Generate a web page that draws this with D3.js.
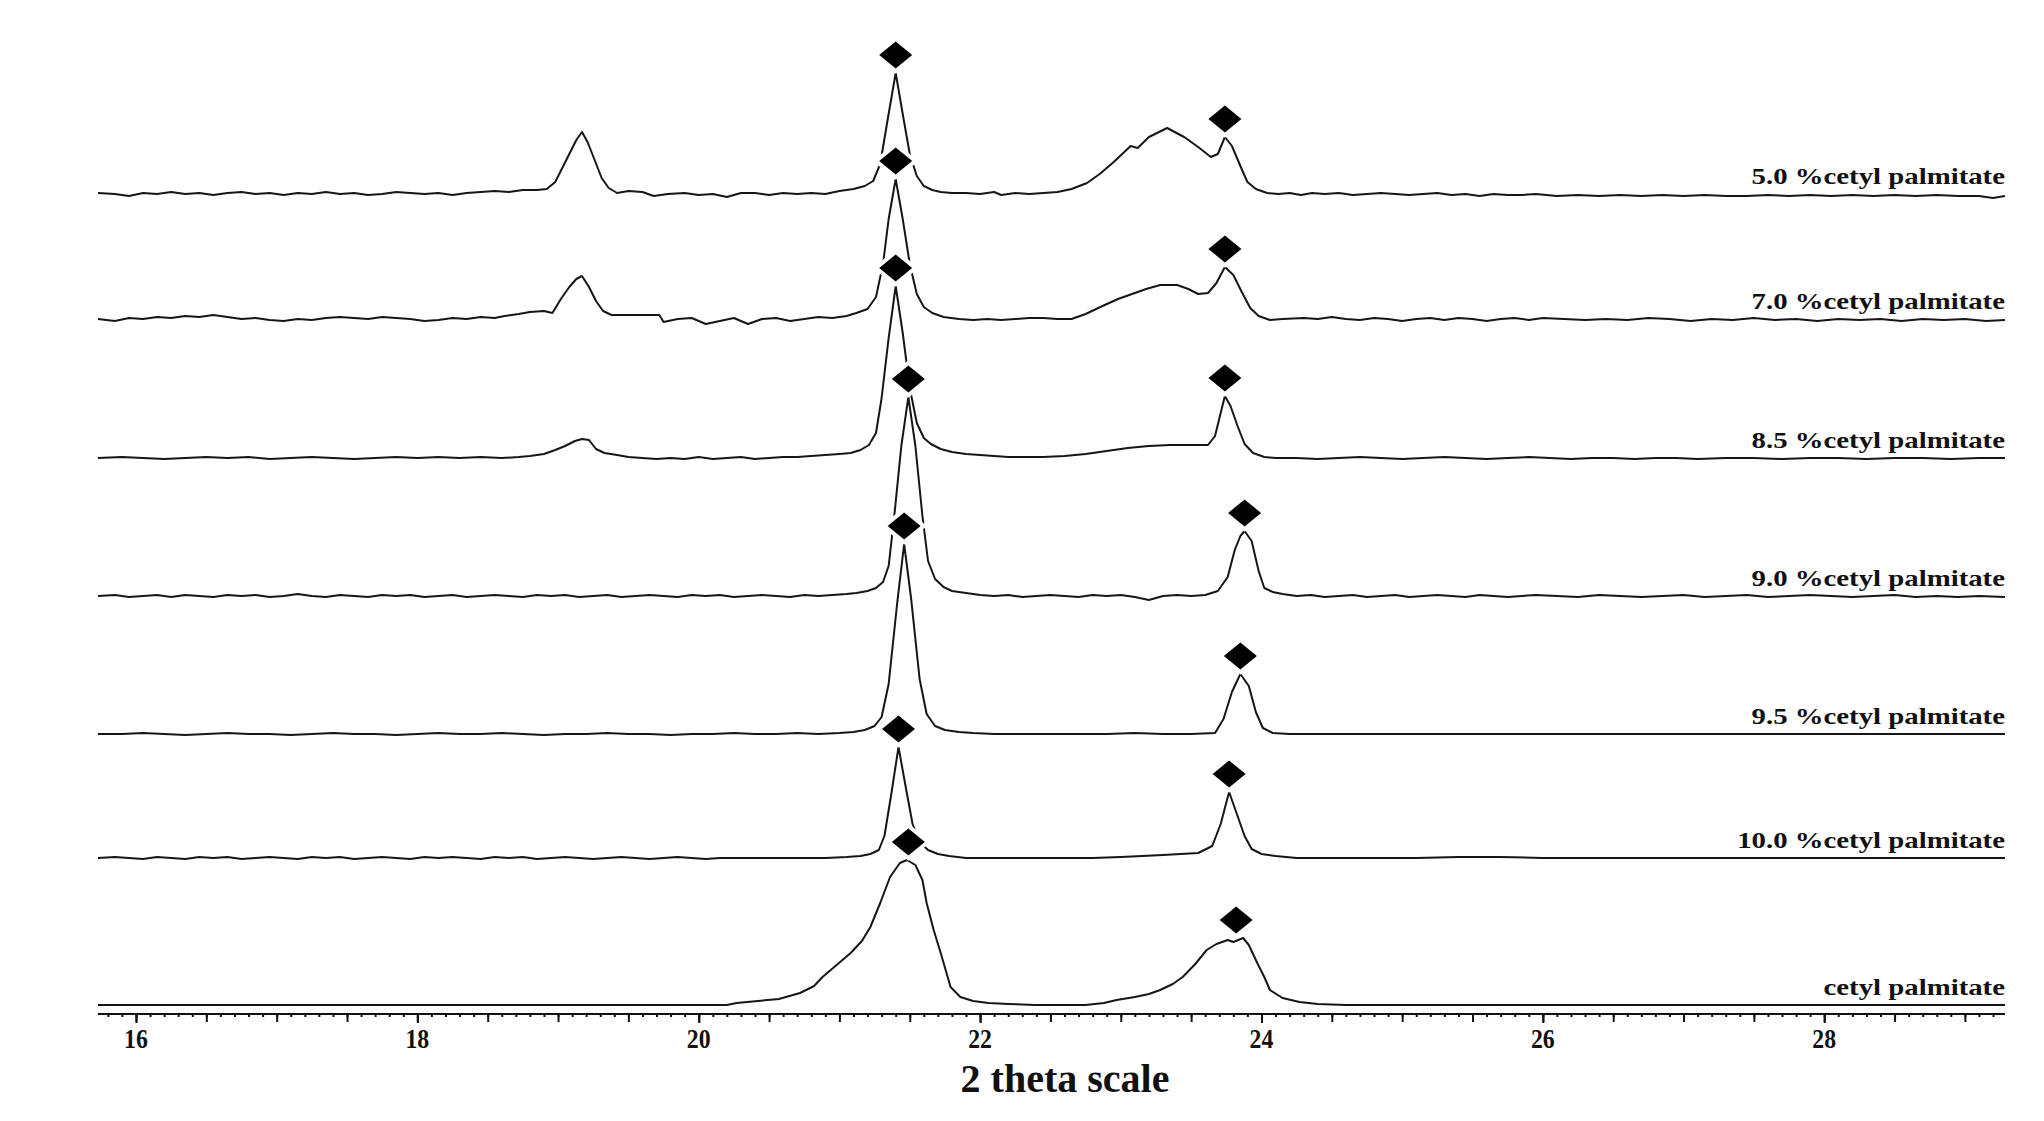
<!DOCTYPE html>
<html>
<head>
<meta charset="utf-8">
<script src="https://cdn.jsdelivr.net/npm/d3@7"></script>
<style>
  body { margin: 0; background: #fff; }
  svg { display: block; }
  .lbl { font-family: "Liberation Serif", "Times New Roman", serif; font-weight: bold; fill: #111; }
</style>
</head>
<body>
<div id="chart"></div>
<script>
/* data: [2 theta, intensity above own baseline] */
var labels = ["5.0 %cetyl palmitate", "7.0 %cetyl palmitate", "8.5 %cetyl palmitate",
              "9.0 %cetyl palmitate", "9.5 %cetyl palmitate", "10.0 %cetyl palmitate", "cetyl palmitate"];
var stackOffset = [820, 695, 556, 418, 280, 156, 9];
var peakMarks = [[21.40, 23.74], [21.40, 23.74], [21.40, 23.74], [21.49, 23.88],
                 [21.46, 23.85], [21.42, 23.77], [21.49, 23.82]];
var tickLabels = [16, 18, 20, 22, 24, 26, 28];

var s50 = [[15.73,1],[15.85,0],[15.95,-2],[16.05,1],[16.15,0],[16.25,2],[16.35,0],[16.45,1],[16.55,-1],[16.65,1],[16.75,2],[16.85,0],[16.95,1],[17.05,-1],[17.15,1],[17.25,0],[17.35,2],[17.45,0],[17.55,1],[17.65,-1],[17.75,0],[17.85,2],[17.95,1],[18.05,0],[18.15,1],[18.25,-1],[18.35,1],[18.45,2],[18.55,3],[18.65,2],[18.75,4],[18.85,4],[18.92,5],
  [18.98,12],[19.03,26],[19.08,40],[19.13,54],[19.17,62],[19.21,52],[19.26,34],[19.31,16],[19.36,6],[19.42,1],
  [19.5,3],[19.6,2],[19.68,-2],[19.78,0],[19.9,1],[20.0,-1],[20.1,0],[20.2,-3],[20.3,1],[20.4,1],[20.5,-1],[20.6,1],[20.7,0],[20.8,1],[20.9,0],[21.0,3],[21.1,5],[21.18,8],[21.24,13],
  [21.29,30],[21.34,72],[21.40,121],[21.45,80],[21.50,40],[21.55,18],[21.6,8],[21.66,4],[21.72,2],[21.8,1],[21.9,1],[22.0,0],[22.1,2],[22.15,-1],[22.25,1],[22.35,0],[22.45,1],[22.55,2],
  [22.65,5],[22.76,11],[22.85,20],[22.95,32],[23.07,48],[23.12,46],[23.2,57],[23.33,66],[23.45,57],[23.55,47],[23.64,37],[23.69,40],[23.74,57],[23.79,48],[23.85,28],[23.9,12],[23.96,5],[24.04,1],[24.12,0],[24.2,1],[24.28,-1],[24.36,1],[24.45,0],
  [24.55,1],[24.65,-1],[24.75,0],[24.85,1],[24.95,0],[25.05,-1],[25.15,0],[25.25,1],[25.35,-1],[25.45,0],[25.55,-2],[25.65,0],[25.75,-1],[25.85,-1],[25.95,0],[26.1,-2],[26.25,-1],[26.4,-2],[26.55,-1],[26.7,-2],[26.85,-1],[27.0,-2],[27.15,-1],[27.3,-2],[27.45,-2],[27.6,-1],[27.75,-2],[27.9,-1],[28.05,-2],[28.2,-1],[28.35,-2],[28.5,-1],[28.65,-2],[28.8,-1],[28.95,-2],[29.1,-2],[29.2,-4],[29.285,-2]];

var s70 = [[15.73,0],[15.85,-2],[15.95,1],[16.05,0],[16.15,2],[16.25,1],[16.35,3],[16.45,2],[16.55,4],[16.65,2],[16.75,0],[16.85,1],[16.95,-1],[17.05,-2],[17.15,0],[17.25,-1],[17.35,1],[17.45,2],[17.55,1],[17.65,0],[17.75,2],[17.85,1],[17.95,0],[18.05,-2],[18.15,-1],[18.25,1],[18.35,0],[18.45,2],[18.55,1],[18.62,3],[18.72,5],[18.8,7],[18.9,8],[18.96,6],
  [19.02,20],[19.08,32],[19.13,40],[19.17,43],[19.22,32],[19.27,18],[19.32,8],[19.38,4],
  [19.5,4],[19.6,4],[19.72,4],[19.75,-3],[19.85,0],[19.95,1],[20.05,-5],[20.15,-2],[20.25,1],[20.35,-5],[20.45,0],[20.55,1],[20.65,-2],[20.75,0],[20.85,2],[20.95,1],[21.05,3],[21.12,6],[21.2,10],[21.26,22],
  [21.31,55],[21.35,100],[21.40,140],[21.45,100],[21.5,55],[21.55,25],[21.6,12],[21.66,6],[21.74,2],[21.85,0],[21.95,-1],[22.05,0],[22.15,-1],[22.25,0],[22.35,1],[22.45,1],[22.55,0],[22.65,0],
  [22.75,5],[22.87,13],[22.98,20],[23.08,25],[23.18,30],[23.28,34],[23.4,34],[23.48,30],[23.55,25],[23.62,26],[23.68,36],[23.74,52],[23.8,44],[23.86,27],[23.92,11],[23.98,3],[24.06,-1],[24.15,0],
  [24.3,1],[24.4,0],[24.5,2],[24.6,0],[24.7,-1],[24.8,1],[24.9,0],[25.0,-2],[25.1,0],[25.2,1],[25.3,-1],[25.4,1],[25.5,0],[25.6,-2],[25.7,0],[25.8,1],[25.9,-1],[26.0,1],[26.15,0],[26.3,-1],[26.45,0],[26.6,-1],[26.75,1],[26.9,0],[27.05,-2],[27.2,0],[27.35,-1],[27.5,1],[27.65,-1],[27.8,0],[27.95,-2],[28.1,0],[28.25,-1],[28.4,0],[28.55,-2],[28.7,0],[28.85,-1],[29.0,0],[29.15,-2],[29.285,-1]];

var s85 = [[15.73,0],[15.9,1],[16.05,0],[16.2,-1],[16.35,0],[16.5,1],[16.65,0],[16.8,1],[16.95,-1],[17.1,0],[17.25,1],[17.4,0],[17.55,-1],[17.7,0],[17.85,1],[18.0,0],[18.15,1],[18.3,0],[18.45,1],[18.6,0],[18.72,1],[18.8,2],[18.9,4],[18.98,8],[19.05,12],[19.12,17],[19.17,19],[19.22,18],[19.27,9],[19.33,5],[19.42,3],[19.5,1],[19.6,0],[19.7,-1],[19.8,0],[19.9,-1],[20.0,1],[20.1,-1],[20.2,0],[20.3,1],[20.4,-1],[20.5,0],[20.6,1],[20.7,1],[20.8,2],[20.9,3],[21.0,4],[21.08,5],[21.15,8],[21.21,13],[21.26,25],
  [21.3,60],[21.35,120],[21.4,172],[21.45,125],[21.5,70],[21.55,35],[21.6,20],[21.65,14],[21.72,9],[21.8,6],[21.9,4],[22.0,3],[22.1,2],[22.2,1],[22.3,1],[22.45,1],[22.6,2],[22.75,4],[22.9,7],[23.05,10],[23.2,12],[23.35,13],[23.5,13],[23.62,13],[23.67,22],[23.71,45],[23.74,62],[23.78,52],[23.83,32],[23.88,14],[23.94,5],[24.02,1],[24.1,0],
  [24.25,0],[24.4,-1],[24.55,0],[24.7,1],[24.85,0],[25.0,-1],[25.15,0],[25.3,1],[25.45,0],[25.6,-1],[25.75,0],[25.9,1],[26.05,0],[26.2,-1],[26.35,0],[26.5,0],[26.65,-1],[26.8,0],[26.95,0],[27.1,-1],[27.3,0],[27.5,0],[27.7,-1],[27.9,0],[28.1,0],[28.3,-1],[28.5,0],[28.7,0],[28.9,-1],[29.1,0],[29.285,0]];

var s90 = [[15.73,0],[15.85,1],[15.95,-1],[16.05,0],[16.15,1],[16.25,-1],[16.35,1],[16.45,0],[16.55,-1],[16.65,1],[16.75,0],[16.85,1],[16.95,-1],[17.05,0],[17.15,2],[17.25,0],[17.35,-1],[17.45,1],[17.55,0],[17.65,-1],[17.75,1],[17.85,0],[17.95,1],[18.05,-1],[18.15,0],[18.25,1],[18.35,-1],[18.45,0],[18.55,1],[18.65,0],[18.75,-1],[18.85,1],[18.95,0],[19.05,1],[19.15,-1],[19.25,0],[19.35,1],[19.45,-1],[19.55,0],[19.65,1],[19.75,0],[19.85,-1],[19.95,1],[20.05,0],[20.15,1],[20.25,-1],[20.35,0],[20.45,1],[20.55,0],[20.65,-1],[20.75,1],[20.85,0],[20.95,1],[21.05,2],[21.12,3],[21.2,5],[21.26,8],[21.31,14],[21.35,30],
  [21.39,80],[21.44,150],[21.49,199],[21.54,150],[21.59,80],[21.63,35],[21.68,17],[21.74,9],[21.8,5],[21.9,3],[22.0,1],[22.1,0],[22.2,1],[22.3,-1],[22.4,0],[22.5,1],[22.6,0],[22.7,-1],[22.8,1],[22.9,0],[23.0,1],[23.1,-1],[23.2,-4],[23.3,0],[23.4,1],[23.5,0],[23.6,1],[23.69,5],[23.76,19],[23.81,46],[23.85,60],[23.88,65],[23.93,55],[23.98,25],[24.02,8],[24.08,4],[24.15,2],[24.25,0],
  [24.35,1],[24.45,-1],[24.55,0],[24.65,1],[24.75,-1],[24.85,0],[24.95,1],[25.05,-1],[25.15,0],[25.25,1],[25.35,0],[25.45,-1],[25.55,1],[25.65,0],[25.75,-1],[25.85,0],[25.95,1],[26.1,0],[26.25,-1],[26.4,1],[26.55,0],[26.7,-1],[26.85,0],[27.0,1],[27.15,-1],[27.3,0],[27.45,1],[27.6,-1],[27.75,0],[27.9,1],[28.05,0],[28.2,-1],[28.35,0],[28.5,1],[28.65,-1],[28.8,0],[28.95,-1],[29.1,0],[29.285,-1]];

var s95 = [[15.73,0],[15.9,0],[16.05,1],[16.2,0],[16.35,-1],[16.5,0],[16.65,1],[16.8,0],[16.95,0],[17.1,-1],[17.25,0],[17.4,1],[17.55,0],[17.7,0],[17.85,-1],[18.0,0],[18.15,1],[18.3,0],[18.45,0],[18.6,1],[18.75,0],[18.9,-1],[19.05,0],[19.2,0],[19.35,1],[19.5,0],[19.65,0],[19.8,-1],[19.95,0],[20.1,0],[20.25,1],[20.4,0],[20.55,0],[20.7,1],[20.85,0],[21.0,1],[21.1,2],[21.18,4],[21.25,8],[21.3,17],
  [21.35,50],[21.41,130],[21.46,190],[21.51,135],[21.57,55],[21.62,20],[21.68,8],[21.75,4],[21.85,2],[21.95,1],[22.1,0],[22.3,0],[22.5,0],[22.7,0],[22.9,0],[23.1,1],[23.3,0],[23.5,0],[23.67,1],[23.73,15],[23.79,42],[23.85,60],[23.91,48],[23.96,22],[24.01,6],[24.08,1],[24.2,0],
  [24.5,0],[24.8,0],[25.1,0],[25.4,0],[25.7,0],[26.0,0],[26.3,0],[26.6,0],[26.9,0],[27.2,0],[27.5,0],[27.8,0],[28.1,0],[28.4,0],[28.7,0],[29.0,0],[29.285,0]];

var s100 = [[15.73,0],[15.85,1],[15.95,0],[16.05,-1],[16.15,1],[16.25,0],[16.35,-1],[16.45,1],[16.55,0],[16.65,1],[16.75,-1],[16.85,0],[16.95,1],[17.05,0],[17.15,-1],[17.25,1],[17.35,0],[17.45,1],[17.55,-1],[17.65,0],[17.75,1],[17.85,0],[17.95,-1],[18.05,1],[18.15,0],[18.25,1],[18.35,0],[18.45,-1],[18.55,1],[18.65,0],[18.75,1],[18.85,-1],[18.95,0],[19.05,1],[19.15,0],[19.25,-1],[19.35,0],[19.45,1],[19.55,0],[19.65,-1],[19.75,0],[19.85,1],[19.95,0],[20.05,-1],[20.15,0],[20.3,0],[20.5,0],[20.7,0],[20.9,0],[21.05,1],[21.15,2],[21.22,4],[21.28,8],[21.32,22],
  [21.37,65],[21.42,111],[21.47,72],[21.52,34],[21.57,16],[21.63,8],[21.7,4],[21.78,2],[21.9,0],[22.2,0],[22.5,0],[22.8,0],[23.0,1],[23.3,3],[23.55,5],[23.65,12],[23.71,34],[23.77,66],[23.83,42],[23.88,22],[23.93,9],[24.0,4],[24.1,2],[24.25,0],
  [24.5,0],[24.8,0],[25.1,0],[25.4,1],[25.7,1],[26.0,0],[26.3,0],[26.6,0],[26.9,0],[27.2,0],[27.5,0],[27.8,0],[28.1,0],[28.4,0],[28.7,0],[29.0,0],[29.285,0]];

var sCP = [[15.73,0],[16.5,0],[17.5,0],[18.5,0],[19.5,0],[20.2,0],[20.27,2],[20.42,4],[20.57,6],[20.72,12],[20.82,19],[20.88,28],[20.98,40],[21.08,52],[21.16,64],[21.22,78],[21.29,102],[21.36,128],[21.43,142],[21.48,145],[21.54,140],[21.59,125],[21.62,102],[21.67,75],[21.72,52],[21.79,18],[21.86,8],[21.95,4],[22.06,2],[22.2,1],[22.39,0],[22.6,0],[22.75,0],[22.88,2],[22.97,5],[23.1,8],[23.2,11],[23.28,15],[23.37,21],[23.44,28],[23.53,41],[23.61,55],[23.68,61],[23.76,65],[23.8,63],[23.87,67],[23.91,60],[23.97,42],[24.02,28],[24.06,15],[24.15,7],[24.27,3],[24.4,1],[24.6,0],[25.0,0],[26.0,0],[27.0,0],[28.0,0],[29.285,0]];

var allSeries = [s50, s70, s85, s90, s95, s100, sCP];

var width = 2044, height = 1121;
var svg = d3.select('#chart').append('svg')
  .attr('width', width)
  .attr('height', height);

var xScale = d3.scaleLinear().domain([15.73, 29.285]).range([98, 2005]);
var yScale = d3.scaleLinear().domain([0, 1000]).range([1014, 14]);

// x axis: small ticks every 0.1, longer every 0.5, labels on even values
var axisY = yScale(0);
var axisG = svg.append('g').attr('transform', 'translate(0,' + axisY + ')');
axisG.append('line')
  .attr('x1', xScale.range()[0]).attr('x2', xScale.range()[1])
  .attr('stroke', '#111').attr('stroke-width', 2);
var minorAxis = d3.axisBottom(xScale)
  .tickValues(d3.range(158, 293).map(function (d) { return d / 10; }))
  .tickSize(3).tickFormat('');
axisG.append('g').call(minorAxis);
var midAxis = d3.axisBottom(xScale)
  .tickValues(d3.range(16, 29.3, 0.5))
  .tickSize(8).tickFormat('');
axisG.append('g').call(midAxis);
var mainAxis = d3.axisBottom(xScale)
  .tickValues(tickLabels)
  .tickSize(9).tickFormat('');
axisG.append('g').call(mainAxis);
axisG.selectAll('.domain').remove();
axisG.selectAll('.tick line').attr('stroke', '#111').attr('stroke-width', 2);

// tick labels, a bit narrow like the source print
svg.selectAll('.xlab')
  .data(tickLabels)
  .enter().append('text')
  .attr('class', 'lbl xlab')
  .attr('transform', function (d) { return 'translate(' + xScale(d) + ',' + (axisY + 34) + ') scale(0.85,1)'; })
  .attr('text-anchor', 'middle')
  .style('font-size', '28px')
  .text(function (d) { return d; });

svg.append('text')
  .attr('class', 'lbl')
  .attr('x', 1065).attr('y', 1092)
  .attr('text-anchor', 'middle')
  .style('font-size', '40px')
  .text('2 theta scale');

// traces
var line = d3.line();
allSeries.forEach(function (series, i) {
  var off = stackOffset[i];
  line.x(function (d) { return xScale(d[0]); })
      .y(function (d) { return yScale(off + d[1]); });
  svg.append('path')
    .datum(series)
    .attr('d', line)
    .attr('fill', 'none')
    .attr('stroke', '#161616')
    .attr('stroke-width', 2)
    .attr('stroke-linejoin', 'round');
  svg.append('text')
    .attr('class', 'lbl')
    .attr('transform', 'translate(' + xScale.range()[1] + ',' + (yScale(off) - 10) + ') scale(1.2,1)')
    .attr('text-anchor', 'end')
    .style('font-size', '24px')
    .text(labels[i]);
});

// diamond markers over the peaks
var diamond = 'M0,-13.5L16.5,0L0,13.5L-16.5,0Z';
allSeries.forEach(function (series, i) {
  peakMarks[i].forEach(function (p) {
    var near = series.filter(function (d) { return Math.abs(d[0] - p) < 0.09; });
    var top = d3.max(near, function (d) { return d[1]; });
    svg.append('path')
      .attr('d', diamond)
      .attr('transform', 'translate(' + xScale(p) + ',' + (yScale(stackOffset[i] + top) - 18) + ')')
      .attr('fill', '#000')
      .attr('stroke', '#fff')
      .attr('stroke-width', 8)
      .attr('paint-order', 'stroke');
  });
});
</script>
</body>
</html>
